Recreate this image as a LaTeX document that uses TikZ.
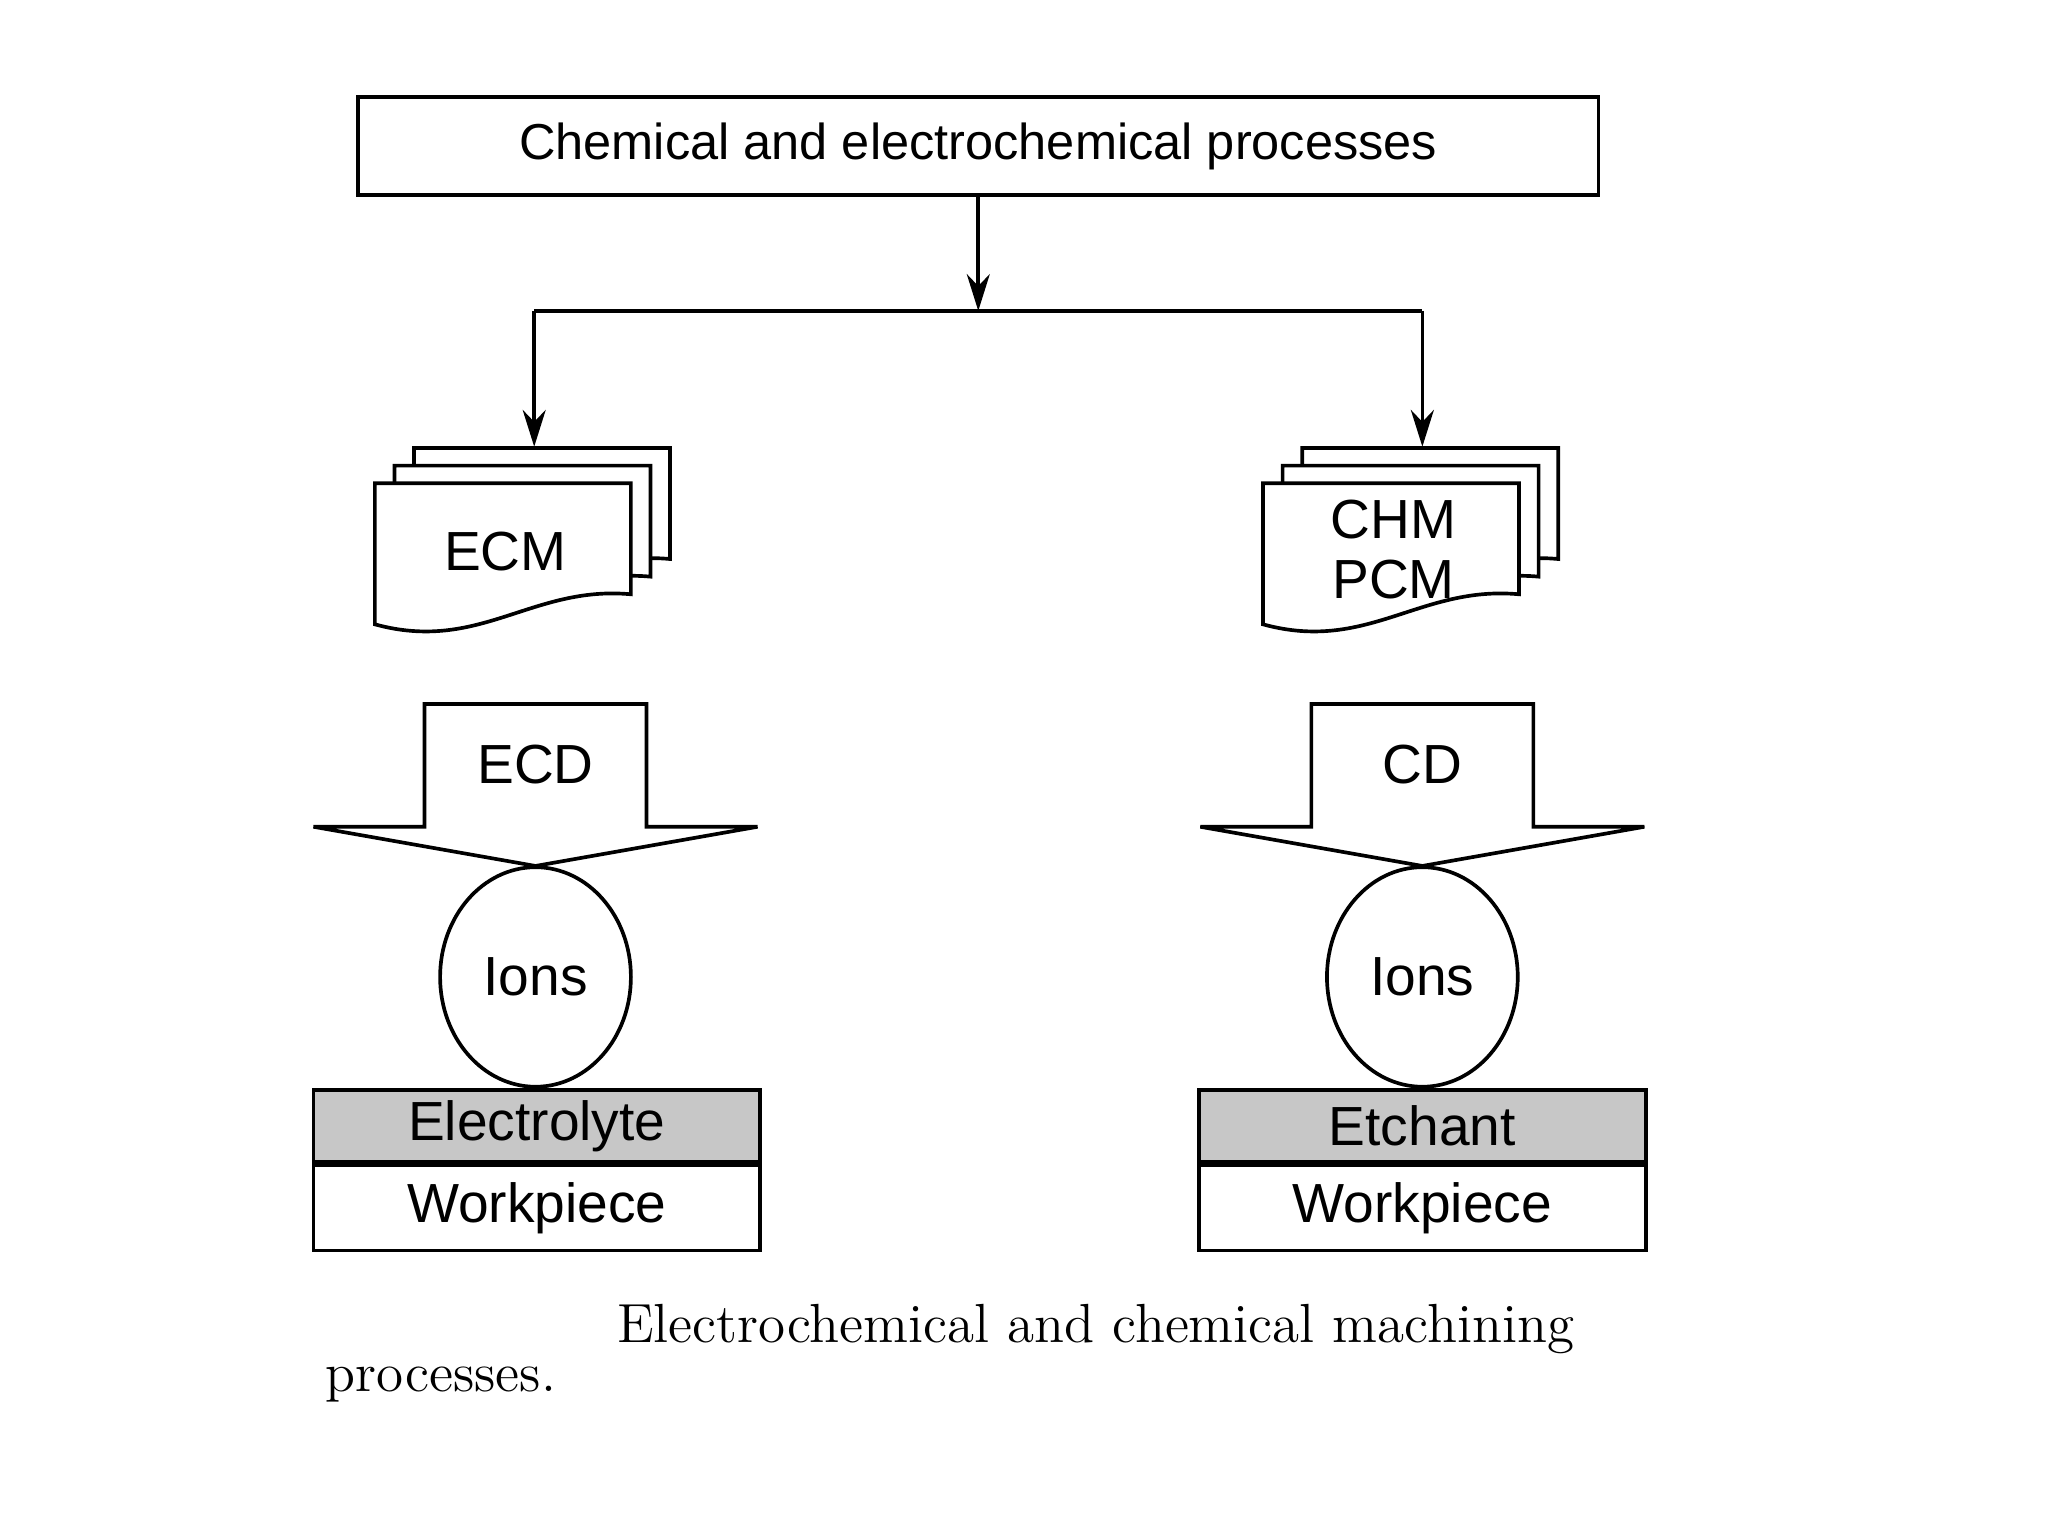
\documentclass[tikz,border=0pt]{standalone}
\usepackage{fontspec}
\setsansfont{Liberation Sans}
\usetikzlibrary{arrows.meta,positioning,calc,shapes.geometric}

\begin{document}
\begin{tikzpicture}[
    x=0.01cm, y=-0.01cm,
    box/.style={rectangle, draw, thick, font=\sffamily\fontsize{11}{13}\selectfont, inner sep=0pt},
    txt/.style={font=\sffamily\fontsize{12}{14}\selectfont, align=center},
    arrow/.style={-{Stealth[length=8pt,width=5pt]}, thick},
    doc/.style={draw, thick, fill=white},
    fat/.style={draw, thick, fill=white}
]
\useasboundingbox (0,0) rectangle (1568,1176);

% top box
\node[box, minimum width=9.49cm, minimum height=0.75cm] (chem) at (749,112) {Chemical and electrochemical processes};
\coordinate (split) at (749,238);
\coordinate (splitL) at (409,238);
\coordinate (splitR) at (1089,238);

% stacked documents
\foreach \x/\n in {287/ecm, 967/chm} {
  \foreach \d in {30,15,0} {
    \draw[doc] (\x+\d,370-\d*0.9) -- (\x+\d+196,370-\d*0.9) -- (\x+\d+196,455-\d*0.9)
      .. controls (\x+\d+120,448-\d*0.9) and (\x+\d+80,500-\d*0.9) .. (\x+\d,478-\d*0.9) -- cycle;
  }
}
\node[txt] (ecm) at (387,422) {ECM};
\node[txt] (chm) at (1067,421) {CHM\\[-1pt]PCM};
\coordinate (ecmtop) at (409,342);
\coordinate (chmtop) at (1089,342);

% fat arrows
\foreach \x in {410, 1089} {
  \draw[fat] (\x-85,539) -- (\x+85,539) -- (\x+85,633) -- (\x+170,633) -- (\x,663)
    -- (\x-170,633) -- (\x-85,633) -- cycle;
}
\node[txt] (ecd) at (410,585) {ECD};
\node[txt] (cd) at (1089,585) {CD};

% ions
\node[draw, thick, ellipse, minimum width=1.46cm, minimum height=1.68cm, txt] (ionsL) at (410,748) {Ions};
\node[draw, thick, ellipse, minimum width=1.46cm, minimum height=1.68cm, txt] (ionsR) at (1089,748) {Ions};

% layers
\node[box, fill=black!22, minimum width=3.42cm, minimum height=0.55cm, font=\sffamily\fontsize{12}{14}\selectfont] (electrolyte) at (411,862) {Electrolyte};
\node[box, minimum width=3.42cm, minimum height=0.65cm, below=0pt of electrolyte, font=\sffamily\fontsize{12}{14}\selectfont] (workL) {Workpiece};
\node[box, fill=black!22, minimum width=3.42cm, minimum height=0.55cm, font=\sffamily\fontsize{12}{14}\selectfont] (etchant) at (1089,862) {Etchant};
\node[box, minimum width=3.42cm, minimum height=0.65cm, below=0pt of etchant, font=\sffamily\fontsize{12}{14}\selectfont] (workR) {Workpiece};

% connectors
\draw[arrow] (chem) -- (split);
\draw[thick] (splitL) -- (splitR);
\draw[arrow] (splitL) -- (ecmtop);
\draw[arrow] (splitR) -- (chmtop);

% caption
\node[anchor=base west, font=\fontsize{12}{14}\selectfont] (caption) at (460,1028) {\addfontfeature{LetterSpace=8}Electrochemical and chemical machining};
\node[anchor=base west, font=\fontsize{12}{14}\selectfont] (caption2) at (237,1065) {\addfontfeature{LetterSpace=8}processes.};
\end{tikzpicture}
\end{document}
